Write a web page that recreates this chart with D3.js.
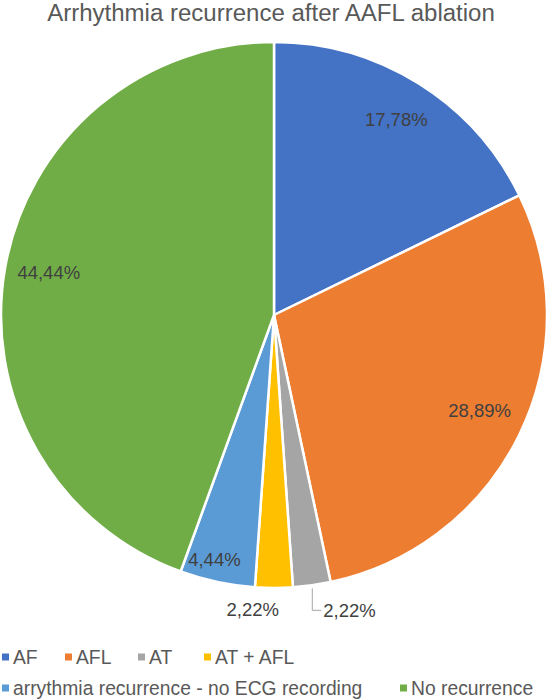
<!DOCTYPE html>
<html><head><meta charset="utf-8">
<script src="https://cdn.jsdelivr.net/npm/d3@7"></script>
<style>body{margin:0;background:#fff}svg{display:block}</style>
</head><body>
<svg id="c" width="550" height="700"></svg>
<script>
const categories = ["AF","AFL","AT","AT + AFL","arrythmia recurrence - no ECG recording","No recurrence"];
const values = [17.78, 28.89, 2.22, 2.22, 4.44, 44.44];
const labels = ["17,78%","28,89%","2,22%","2,22%","4,44%","44,44%"];
const colors = ["#4472C4","#ED7D31","#A5A5A5","#FFC000","#5B9BD5","#70AD47"];
const title = "Arrhythmia recurrence after AAFL ablation";

const svg = d3.select("#c");
const font = "'Liberation Sans', Arial, sans-serif";
const cx = 274, cy = 315, R = 273;

// title
const t = svg.append("text").attr("x", 271).attr("y", 21).attr("text-anchor","middle")
  .attr("font-family", font).attr("font-size", 24).attr("fill","#595959").text(title);
const tl = t.node().getComputedTextLength();
t.attr("font-size", 24*448/tl);

const data = categories.map((c,i)=>({c, v: values[i], l: labels[i], col: colors[i]}));
const pie = d3.pie().value(d=>d.v).sort(null);
const arcs = pie(data);
const arc = d3.arc().innerRadius(0).outerRadius(R);
const g = svg.append("g").attr("transform",`translate(${cx},${cy})`);
g.selectAll("path").data(arcs).join("path").attr("d", arc)
  .attr("fill", d=>d.data.col).attr("stroke","#fff").attr("stroke-width",2.5).attr("stroke-linejoin","round");

// label radii (fraction of R) and angle offsets to match reference layout
const labR = [0.845, 0.83, 1.1, 1.08, 0.92, 0.84];
const labDA = [0, -0.02, -0.12, 0.072, 0.03, 0.014];
const pol = (a, r) => [Math.sin(a)*r, -Math.cos(a)*r];
arcs.forEach((d,i)=>{
  const a = (d.startAngle+d.endAngle)/2 + labDA[i];
  let [x,y] = pol(a, R*labR[i]);
  let anchor = "middle";
  if (i === 2) {
    const am = (d.startAngle+d.endAngle)/2;
    const [ex,ey] = pol(am, R+3);
    const ly = ey + 22;
    g.append("path").attr("d", `M${ex},${ey}L${ex},${ly}L${ex+9},${ly}`)
      .attr("fill","none").attr("stroke","#A5A5A5").attr("stroke-width",1);
    x = ex + 11; y = ly; anchor = "start";
  }
  g.append("text").attr("x", x).attr("y", y).attr("dy","0.36em").attr("text-anchor", anchor)
    .attr("font-family", font).attr("font-size", 18.5).attr("fill","#404040").text(d.data.l);
});

// legend
const legRows = [[0,1,2,3],[4,5]];
const legX = [[2,65,138,204],[2,400]];
const legY = [657, 688];
legRows.forEach((row,ri)=>{
  row.forEach((ci,k)=>{
    const x = legX[ri][k];
    svg.append("rect").attr("x", x).attr("y", legY[ri]-3.5).attr("width",7).attr("height",7).attr("fill", colors[ci]);
    svg.append("text").attr("x", x+11).attr("y", legY[ri]).attr("dy","0.36em")
      .attr("font-family", font).attr("font-size", 19.3).attr("fill","#595959").text(categories[ci]);
  });
});
</script>
</body></html>
